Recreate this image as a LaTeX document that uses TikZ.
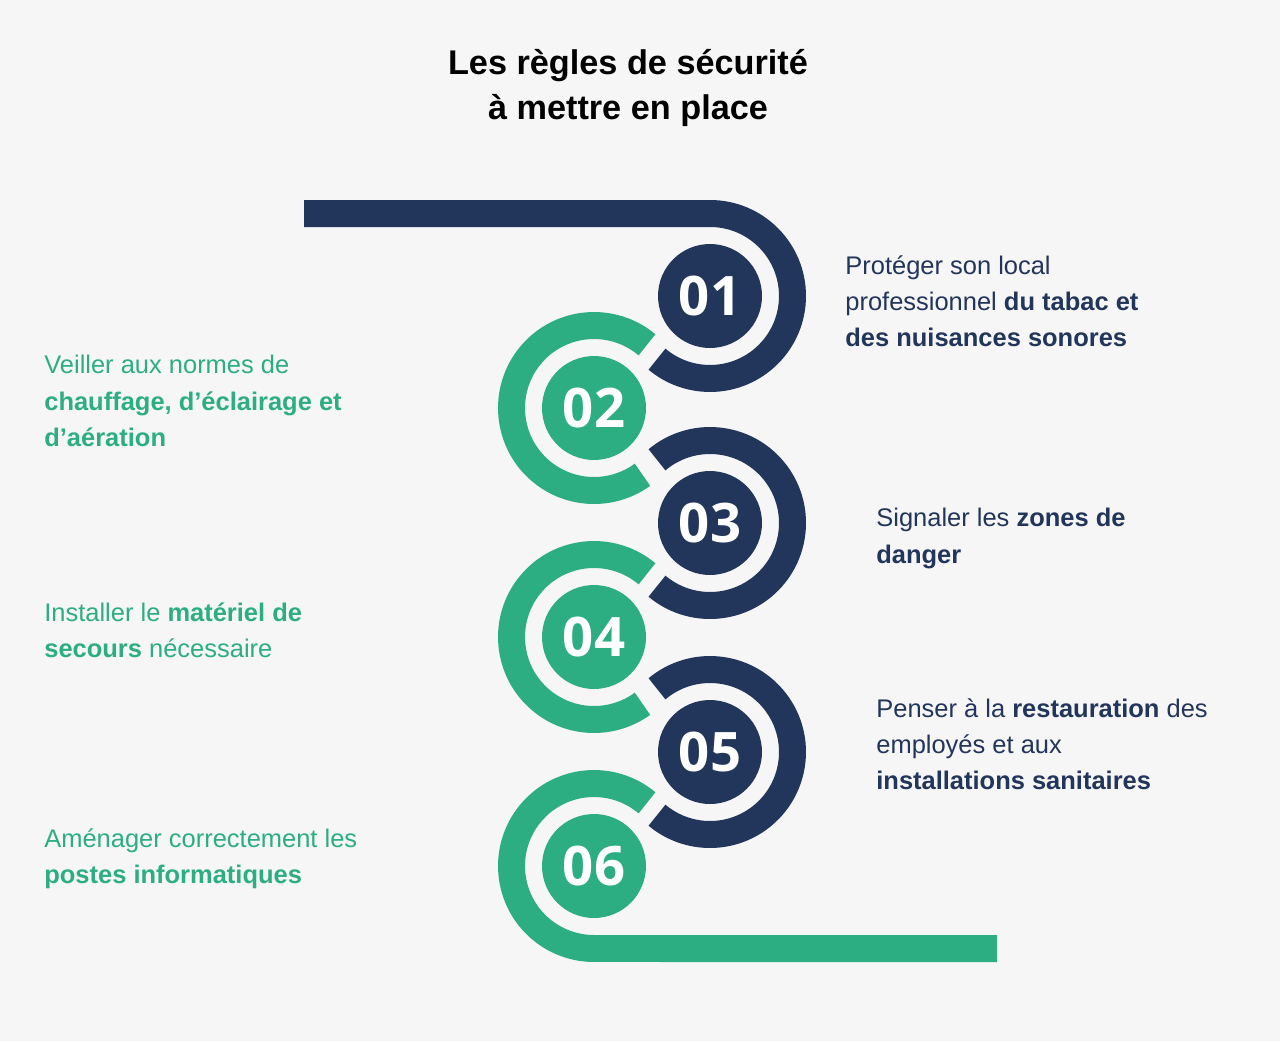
\documentclass[tikz,border=0pt]{standalone}
\usepackage{fontspec}
\setmainfont{Liberation Sans}
\newfontfamily\numfont{Open Sans}
\definecolor{navy}{HTML}{22355A}
\definecolor{mint}{HTML}{2DAE82}
\definecolor{paper}{HTML}{F6F6F6}
\tikzset{
  band/.style={line width=0.54cm},
  disc/.style={circle, minimum size=2.08cm, inner sep=0pt, text=white,
    font=\numfont\bfseries\fontsize{31}{31}\selectfont},
  note/.style={anchor=north west, align=left, inner sep=0pt,
    font=\fontsize{14.5}{20.6}\selectfont}
}
\begin{document}
\begin{tikzpicture}[x=0.02cm,y=0.02cm]
% the canvas
  \fill[paper] (0,0) rectangle (1280,-1041);
  \useasboundingbox (0,0) rectangle (1280,-1041);
% the title
  \node (title) [align=center, font=\bfseries\fontsize{19.5}{25.5}\selectfont]
    at (628,-88) {Les règles de sécurité\\à mettre en place};
% the centres
  \coordinate (m1) at (710,-296);
  \coordinate (m2) at (594,-408);
  \coordinate (m3) at (710,-523);
  \coordinate (m4) at (594,-637);
  \coordinate (m5) at (710,-752);
  \coordinate (m6) at (594,-866);
  \coordinate (top) at (304,-213.5);
  \coordinate (tail) at (997,-948.5);
% the bands
  \draw[band, navy] (top) -- (710,-213.5)
    arc[start angle=90, end angle=-130, radius=1.65cm];
  \draw[band, mint] (m2) ++(50:1.65cm)
    arc[start angle=50, end angle=306, radius=1.65cm];
  \draw[band, navy] (m3) ++(130:1.65cm)
    arc[start angle=130, end angle=-130, radius=1.65cm];
  \draw[band, mint] (m4) ++(50:1.65cm)
    arc[start angle=50, end angle=306, radius=1.65cm];
  \draw[band, navy] (m5) ++(130:1.65cm)
    arc[start angle=130, end angle=-130, radius=1.65cm];
  \draw[band, mint] (m6) ++(50:1.65cm)
    arc[start angle=50, end angle=270, radius=1.65cm] -- (tail);
% the discs
  \foreach \i/\c in {1/navy, 2/mint, 3/navy, 4/mint, 5/navy, 6/mint}
    \node (c\i) [disc, fill=\c] at (m\i) {0\i};
% the notes
  \node (t1) [note, text=navy] at (845,-255)
    {Protéger son local\\professionnel \textbf{du tabac et}\\\textbf{des nuisances sonores}};
  \node (t2) [note, text=mint] at (44,-355)
    {Veiller aux normes de\\\textbf{chauffage, d'éclairage et}\\\textbf{d'aération}};
  \node (t3) [note, text=navy] at (876,-508)
    {Signaler les \textbf{zones de}\\\textbf{danger}};
  \node (t4) [note, text=mint] at (44,-602)
    {Installer le \textbf{matériel de}\\\textbf{secours} nécessaire};
  \node (t5) [note, text=navy] at (876,-698)
    {Penser à la \textbf{restauration} des\\employés et aux\\\textbf{installations sanitaires}};
  \node (t6) [note, text=mint] at (44,-828)
    {Aménager correctement les\\\textbf{postes informatiques}};
\end{tikzpicture}
\end{document}
